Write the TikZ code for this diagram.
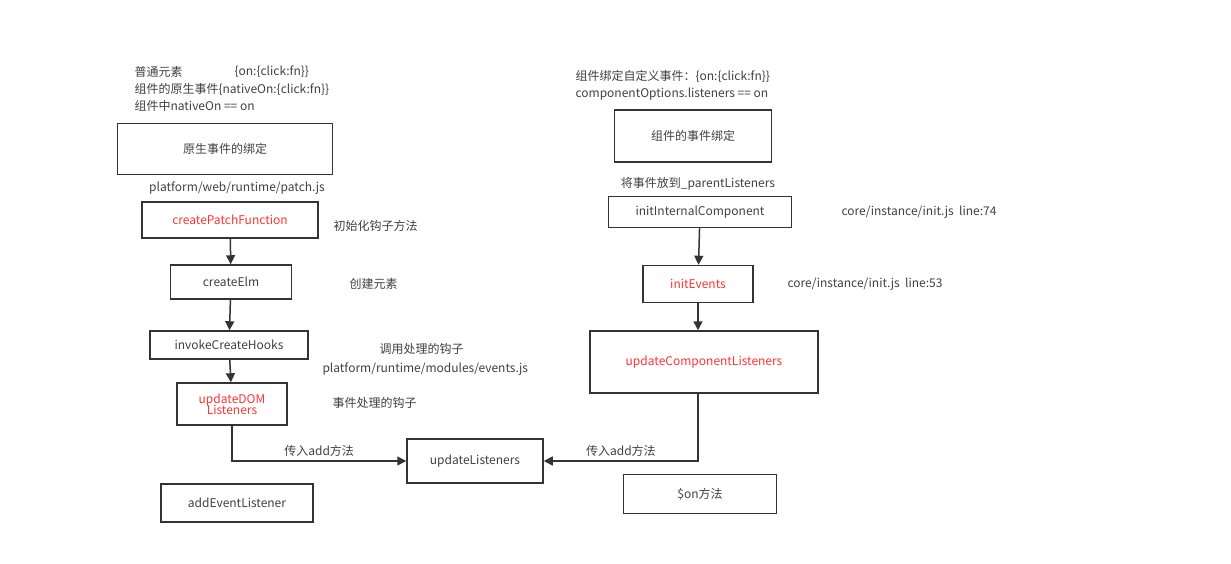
\documentclass[tikz,border=0pt]{standalone}
\usepackage{fontspec}
\setmainfont{Noto Sans CJK SC}
\usetikzlibrary{arrows.meta}
\definecolor{linegray}{HTML}{333333}
\definecolor{fnred}{HTML}{FF3333}
\tikzset{
  box/.style={draw=linegray, line width=1.5pt, minimum width=#1, align=center},
  flow/.style={draw=linegray, line width=1.5pt, -{Triangle[length=9pt,width=9pt]}},
  note/.style={text=black!75, font=\fontsize{12}{14}\selectfont}
}
\begin{document}
\begin{tikzpicture}[x=1pt, y=-1pt, font=\fontsize{12}{14}\selectfont, text=black!75]
    \useasboundingbox (0,0) rectangle (1231,564);
    % left column: native events
    \node[box=215pt, minimum height=51pt] (native) at (225,149) {原生事件的绑定};
    \node[box=176pt, minimum height=36pt, text=fnred] (patchfn) at (230,220) {createPatchFunction};
    \node[box=121pt, minimum height=34pt] (elm) at (231,282) {createElm};
    \node[box=158pt, minimum height=28pt] (hooks) at (229,345) {invokeCreateHooks};
    \node[box=110pt, minimum height=42pt, text=fnred, inner sep=2pt] (domlis) at (232,404) {updateDOM\\[-3pt]Listeners};
    \node[box=152pt, minimum height=38pt] (addev) at (237,503) {addEventListener};
    % middle
    \node[box=136pt, minimum height=44pt] (update) at (475,461) {updateListeners};
    % right column: component events
    \node[box=157pt, minimum height=52pt] (comp) at (693,136) {组件的事件绑定};
    \node[box=183pt, minimum height=31pt] (initint) at (700,212) {initInternalComponent};
    \node[box=110pt, minimum height=37pt, text=fnred] (initev) at (698,284) {initEvents};
    \node[box=228pt, minimum height=62pt, text=fnred] (complis) at (704,362) {updateComponentListeners};
    \node[box=153pt, minimum height=39pt] (son) at (700,494) {\$on方法};
    % notes
    \node[note, anchor=west] (n1) at (131,72) {普通元素};
    \node[note, anchor=west] (n1b) at (231,72) {\{on:\{click:fn\}\}};
    \node[note, anchor=west] (n2) at (131,89) {组件的原生事件\{nativeOn:\{click:fn\}\}};
    \node[note, anchor=west] (n3) at (131,106) {组件中nativeOn == on};
    \node[note] (patchjs) at (237,188) {platform/web/runtime/patch.js};
    \node[note, anchor=west] (n4) at (330,226) {初始化钩子方法};
    \node[note, anchor=west] (n5) at (346,284) {创建元素};
    \node[note, anchor=west] (n6) at (376,349) {调用处理的钩子};
    \node[note, anchor=west] (n7) at (319,369) {platform/runtime/modules/events.js};
    \node[note, anchor=west] (n8) at (329,403) {事件处理的钩子};
    \node[note, anchor=west] (n9) at (572,76) {组件绑定自定义事件：\{on:\{click:fn\}\}};
    \node[note, anchor=west] (n10) at (572,94) {componentOptions.listeners == on};
    \node[note] (n11) at (698,184) {将事件放到\_parentListeners};
    \node[note, anchor=west] (n12) at (838,212) {core/instance/init.js~~line:74};
    \node[note, anchor=west] (n13) at (784,284) {core/instance/init.js~~line:53};
    % connectors
    \draw[flow] (patchfn) -- (elm);
    \draw[flow] (elm) -- (hooks);
    \draw[flow] (hooks) -- (domlis);
    \draw[flow] (domlis.south) |- node[pos=0.75, above] {传入add方法} (update.west);
    \draw[flow] (initint) -- (initev);
    \draw[flow] (initev) -- (initev |- complis.north);
    \draw[flow] (complis.south -| initev) |- node[pos=0.75, above] {传入add方法} (update.east);
\end{tikzpicture}
\end{document}
